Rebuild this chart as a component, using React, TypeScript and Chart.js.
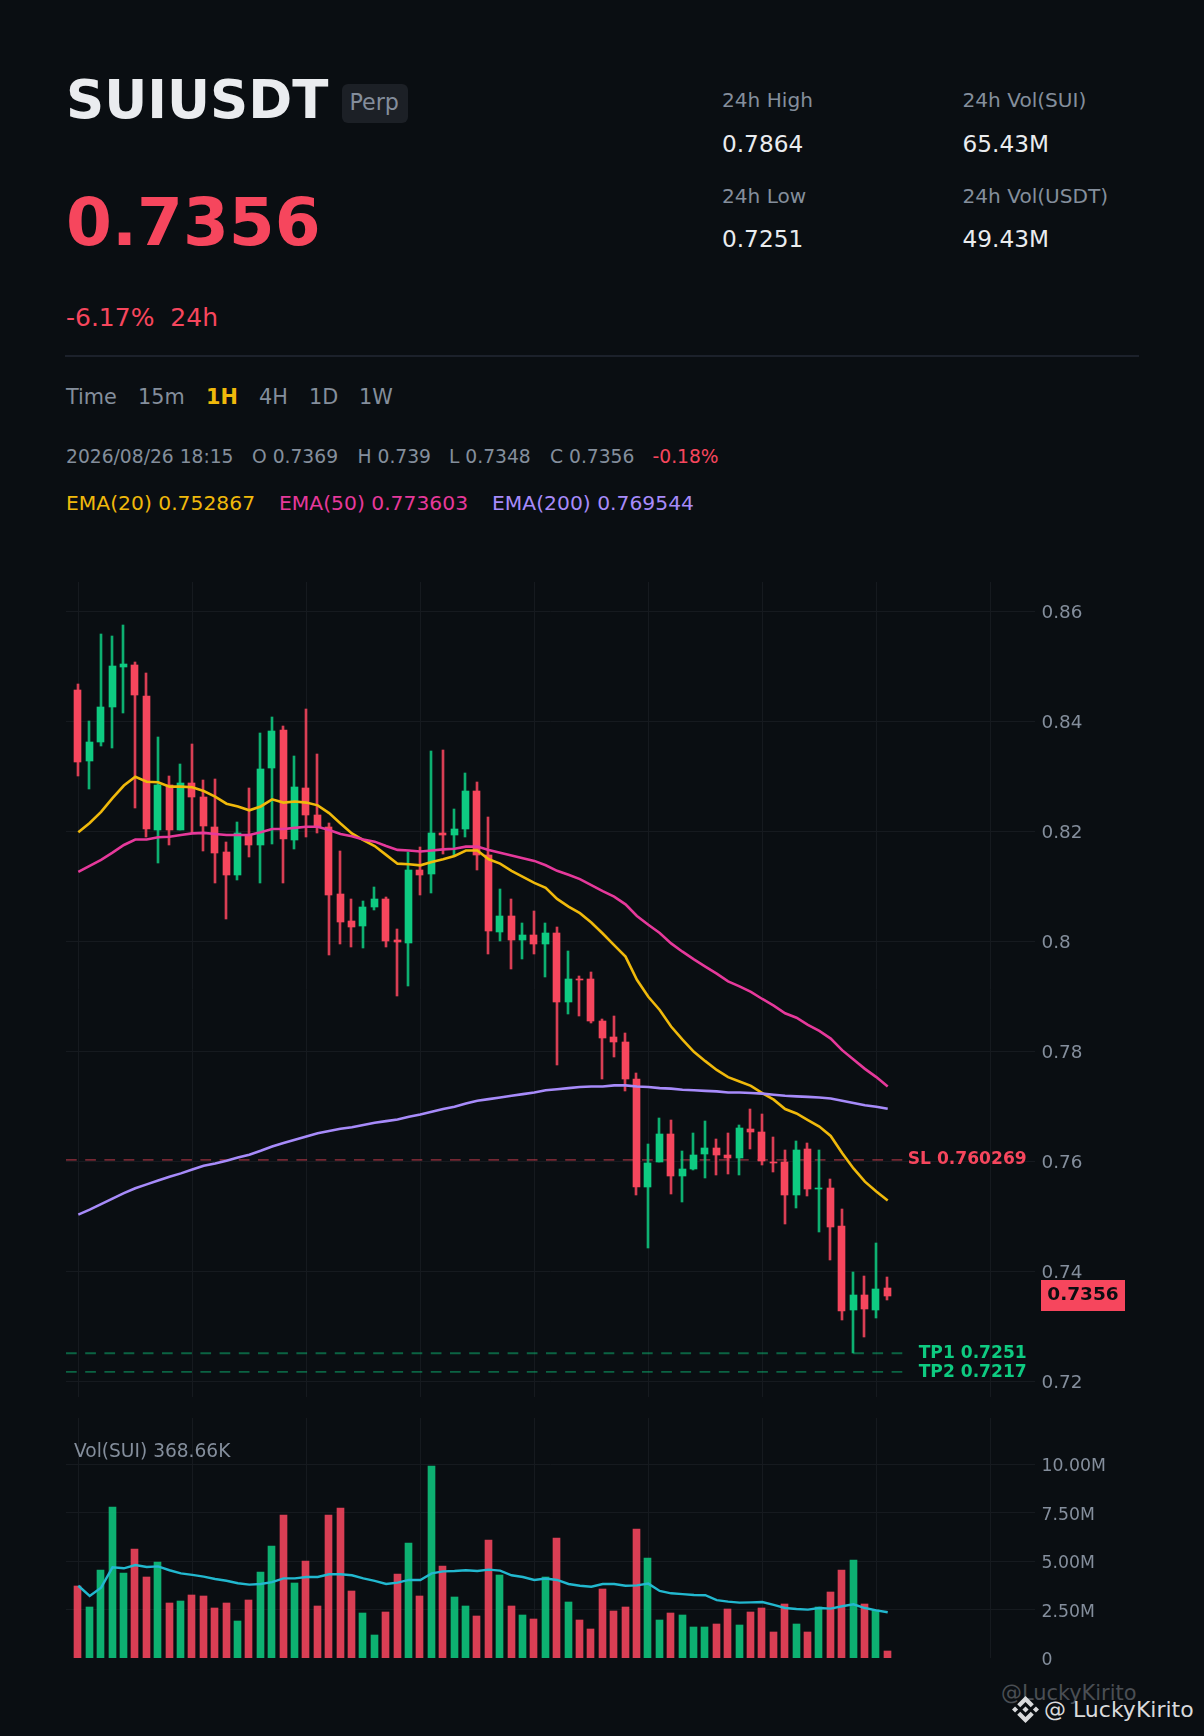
import React, { useEffect, useRef } from "react";
import { Chart, registerables } from "chart.js";

Chart.register(...registerables);

const opens = [0.8457,0.8328,0.8362,0.8426,0.8499,0.8502,0.8446,0.8202,0.8284,0.8202,0.8288,0.8262,0.8208,0.8162,0.8121,0.8193,0.8175,0.8315,0.8384,0.8184,0.8279,0.823,0.8208,0.8086,0.8037,0.8028,0.8062,0.8077,0.8002,0.7997,0.813,0.8122,0.8197,0.8193,0.8204,0.8273,0.8157,0.8017,0.8046,0.8002,0.8012,0.7995,0.8015,0.789,0.7932,0.7932,0.7855,0.7826,0.7817,0.775,0.7553,0.7599,0.765,0.7573,0.7586,0.7613,0.7624,0.7612,0.7606,0.7659,0.7653,0.7599,0.7599,0.7539,0.7622,0.7551,0.7552,0.7482,0.733,0.7357,0.733,0.7369];
const highs = [0.8468,0.8401,0.8559,0.8555,0.8575,0.8508,0.8488,0.8372,0.8301,0.8322,0.8359,0.8293,0.8295,0.8181,0.8217,0.8279,0.8379,0.8408,0.8392,0.8337,0.8422,0.8341,0.8215,0.8164,0.8077,0.8073,0.8099,0.8081,0.8022,0.8162,0.8172,0.8346,0.8348,0.8241,0.8306,0.829,0.8226,0.8095,0.8077,0.8033,0.8055,0.8033,0.8026,0.7982,0.7937,0.7944,0.7859,0.7864,0.7833,0.7761,0.7632,0.7679,0.7675,0.7619,0.7652,0.7673,0.7641,0.7652,0.7666,0.7695,0.7686,0.7644,0.7621,0.7637,0.7633,0.7621,0.7568,0.7513,0.7399,0.7392,0.7452,0.739];
const lows = [0.8301,0.8277,0.8355,0.8352,0.8415,0.8242,0.819,0.8142,0.8175,0.8202,0.8197,0.8164,0.8106,0.8041,0.8112,0.8153,0.8106,0.8177,0.8106,0.8168,0.819,0.8197,0.7975,0.7995,0.799,0.7988,0.8057,0.799,0.7901,0.7919,0.8084,0.8088,0.8159,0.8155,0.819,0.813,0.7977,0.8001,0.795,0.7968,0.7977,0.7935,0.7775,0.7868,0.7864,0.7852,0.775,0.779,0.7728,0.7539,0.7442,0.7599,0.7541,0.7526,0.7584,0.757,0.7575,0.7577,0.7575,0.7622,0.7593,0.7581,0.7486,0.7515,0.7537,0.7472,0.7421,0.7312,0.7251,0.7281,0.7315,0.7348];
const closes = [0.8326,0.8362,0.8426,0.8501,0.8504,0.8448,0.8204,0.8284,0.8202,0.8288,0.8262,0.821,0.8161,0.8121,0.8197,0.8175,0.8313,0.8382,0.8186,0.8281,0.823,0.8208,0.8084,0.8035,0.8026,0.8062,0.8077,0.8001,0.7999,0.813,0.8121,0.8197,0.8193,0.8204,0.8273,0.8157,0.8019,0.8046,0.8002,0.8012,0.7995,0.8015,0.789,0.7932,0.793,0.7855,0.7824,0.7817,0.775,0.7553,0.7597,0.765,0.7573,0.7586,0.7612,0.7624,0.7612,0.7606,0.7661,0.7653,0.7601,0.7597,0.7539,0.7621,0.755,0.7552,0.7481,0.7328,0.7357,0.7332,0.7368,0.7356];

const ema20 = [0.8198,0.8215,0.8235,0.826,0.8283,0.8299,0.829,0.8289,0.8281,0.8281,0.828,0.8273,0.8263,0.825,0.8245,0.8238,0.8245,0.8258,0.8252,0.8254,0.8252,0.8247,0.8233,0.8214,0.8196,0.8184,0.8173,0.8157,0.8141,0.814,0.8138,0.8144,0.8149,0.8155,0.8165,0.8165,0.8149,0.8141,0.8128,0.8117,0.8106,0.8097,0.8077,0.8063,0.8051,0.8034,0.8014,0.7993,0.7972,0.793,0.7899,0.7875,0.7845,0.7821,0.7799,0.7782,0.7766,0.7753,0.7745,0.7737,0.7724,0.7712,0.7695,0.7687,0.7675,0.7663,0.7646,0.7615,0.7587,0.7563,0.7545,0.752867];
const ema50 = [0.8126,0.8137,0.8148,0.8161,0.8175,0.8185,0.8185,0.8189,0.819,0.8193,0.8196,0.8197,0.8195,0.8193,0.8193,0.8193,0.8198,0.8204,0.8204,0.8206,0.8208,0.8208,0.8202,0.8195,0.8191,0.8185,0.8181,0.8173,0.8166,0.8165,0.8163,0.8165,0.8167,0.8168,0.8172,0.8172,0.8166,0.8161,0.8156,0.8151,0.8146,0.8138,0.8128,0.8121,0.8113,0.8102,0.8091,0.8081,0.8067,0.8046,0.803,0.8015,0.7996,0.7981,0.7967,0.7954,0.7941,0.7927,0.7918,0.7908,0.7895,0.7883,0.7869,0.7861,0.7848,0.7837,0.7823,0.7802,0.7785,0.7768,0.7753,0.773603];
const ema200 = [0.7503,0.7512,0.7522,0.7532,0.7542,0.7551,0.7558,0.7565,0.7572,0.7578,0.7585,0.7592,0.7596,0.7601,0.7607,0.7612,0.7619,0.7627,0.7633,0.7639,0.7645,0.7651,0.7655,0.7659,0.7662,0.7666,0.767,0.7673,0.7676,0.7681,0.7685,0.769,0.7695,0.7699,0.7705,0.771,0.7713,0.7716,0.7719,0.7722,0.7725,0.7729,0.7731,0.7733,0.7735,0.7736,0.7736,0.7738,0.7738,0.7736,0.7735,0.7733,0.7732,0.773,0.7729,0.7728,0.7727,0.7725,0.7725,0.7724,0.7723,0.7721,0.7719,0.7718,0.7717,0.7716,0.7714,0.771,0.7706,0.7702,0.7699,0.769544];

const volumes = [3.72,2.63,4.54,7.8,4.39,5.63,4.18,4.96,2.84,2.94,3.25,3.2,2.58,2.84,1.91,2.99,4.44,5.78,7.38,3.87,5.01,2.69,7.38,7.75,3.46,2.32,1.19,2.38,4.34,5.94,3.2,9.91,4.75,3.15,2.69,2.17,6.09,4.29,2.69,2.22,2.01,4.18,6.2,2.89,1.96,1.5,3.56,2.43,2.63,6.66,5.16,1.96,2.32,2.22,1.6,1.6,1.76,2.51,1.7,2.38,2.58,1.34,2.79,1.76,1.34,2.63,3.41,4.54,5.06,2.79,2.48,0.36866];
const volumeMa = [3.73,3.2,3.63,4.68,4.63,4.8,4.7,4.73,4.53,4.37,4.29,4.2,4.08,3.99,3.86,3.79,3.82,3.92,4.11,4.11,4.18,4.18,4.32,4.32,4.27,4.11,3.98,3.82,3.89,4.03,4.03,4.37,4.47,4.49,4.53,4.49,4.56,4.51,4.27,4.18,4.03,4.1,4.03,3.82,3.73,3.68,3.82,3.82,3.73,3.75,3.84,3.46,3.34,3.3,3.25,3.24,2.99,2.91,2.86,2.87,2.89,2.74,2.58,2.53,2.5,2.58,2.55,2.67,2.77,2.58,2.46,2.36];

const priceTicks = [0.72,0.74,0.76,0.78,0.8,0.82,0.84,0.86];
const volumeTicks = [0,2.5,5,7.5,10];
const volumeTickLabels = ["0","2.50M","5.00M","7.50M","10.00M"];
const gridIndices = [0,10,20,30,40,50,60,70,80];

const levelNames = ["SL 0.760269","TP1 0.7251","TP2 0.7217"];
const levelValues = [0.760269,0.7251,0.7217];
const lastPriceLabel = "0.7356";
const lastPrice = 0.7356;

const BG = "#0A0E12";
const GRID = "#161A1F";
const RED = "#F6465D";
const GREEN = "#0ECB81";
const RED_SOFT = "rgba(246,70,93,0.88)";
const GREEN_SOFT = "rgba(14,203,129,0.86)";
const GOLD = "#F0B90B";
const PINK = "#E6399B";
const PURPLE = "#A78BFA";
const CYAN = "#22B8CF";
const MUTED = "#848E9C";
const FONT = '"DejaVu Sans", sans-serif';

const CANVAS_W = 1204;
const AXIS_W = 169;
const AREA_LEFT = 66;
const X_MIN = -1.079;
const X_MAX = 83.92;
const LEVEL_END = 72.5;

const isUp = (i: number) => closes[i] >= opens[i];
const indices = opens.map((_, i) => i);

const snapBars = {
  id: "snapBars",
  afterDatasetsUpdate(chart: any) {
    chart.getSortedVisibleDatasetMetas().forEach((meta: any) => {
      if (meta.type !== "bar") return;
      meta.data.forEach((el: any) => {
        const w = el.width;
        el.x = Math.floor(el.x - w / 2) + w / 2;
        const top = Math.round(Math.min(el.y, el.base));
        let bottom = Math.round(Math.max(el.y, el.base));
        if (bottom <= top) bottom = top + 1;
        el.y = top;
        el.base = bottom;
      });
    });
  },
};

const priceLabels = {
  id: "priceLabels",
  afterDraw(chart: any) {
    const { ctx, scales } = chart;
    const y = scales.y;
    ctx.save();
    ctx.textBaseline = "middle";
    ctx.textAlign = "right";
    ctx.font = `bold 17.1px ${FONT}`;
    levelNames.forEach((name, i) => {
      ctx.fillStyle = i === 0 ? RED : GREEN;
      ctx.fillText(name, 1026.7, y.getPixelForValue(levelValues[i]) + (i === 0 ? -0.5 : 0.5));
    });
    const py = y.getPixelForValue(lastPrice);
    ctx.fillStyle = RED;
    ctx.fillRect(1041, Math.round(py - 15.5), 84, 31);
    ctx.fillStyle = "#0B0E11";
    ctx.textAlign = "center";
    ctx.font = `bold 18.5px ${FONT}`;
    ctx.fillText(lastPriceLabel, 1083, py);
    ctx.restore();
  },
};

const fitY = (axis: any) => {
  axis.width = AXIS_W;
  axis.paddingTop = 0;
  axis.paddingBottom = 0;
};

const xAxis = () => ({
  type: "linear",
  min: X_MIN,
  max: X_MAX,
  offset: false,
  border: { display: false },
  grid: { color: GRID, lineWidth: 1, drawTicks: false, offset: false },
  ticks: { display: false },
  afterBuildTicks: (axis: any) => {
    axis.ticks = gridIndices.map((value) => ({ value }));
  },
  afterFit: (axis: any) => {
    axis.height = 0;
  },
});

const baseOptions = () => ({
  responsive: false,
  animation: false,
  devicePixelRatio: 1,
  events: [],
  plugins: { legend: { display: false }, tooltip: { enabled: false } },
});

function PriceChart() {
  const ref = useRef<HTMLCanvasElement>(null);
  useEffect(() => {
    const line = (data: number[], color: string, order: number) => ({
      type: "line",
      data: data.map((y, x) => ({ x, y })),
      borderColor: color,
      borderWidth: 2.6,
      pointRadius: 0,
      tension: 0,
      fill: false,
      order,
    });
    const level = (value: number, color: string) => ({
      type: "line",
      data: [{ x: X_MIN, y: value }, { x: LEVEL_END, y: value }],
      borderColor: color,
      borderWidth: 1.8,
      borderDash: [10.7, 8.5],
      pointRadius: 0,
      tension: 0,
      fill: false,
      order: 4,
    });
    const chart = new Chart(ref.current as HTMLCanvasElement, {
      type: "bar",
      data: {
        datasets: [
          line(ema200, PURPLE, 0),
          line(ema50, PINK, 0),
          line(ema20, GOLD, 0),
          {
            type: "bar",
            data: indices.map((x) => ({ x, y: [opens[x], closes[x]] })),
            backgroundColor: indices.map((i) => (isUp(i) ? GREEN : RED)),
            barThickness: 7,
            grouped: false,
            borderWidth: 0,
            order: 2,
          },
          {
            type: "bar",
            data: indices.map((x) => ({ x, y: [lows[x], highs[x]] })),
            backgroundColor: indices.map((i) => (isUp(i) ? GREEN_SOFT : RED_SOFT)),
            barThickness: 2,
            grouped: false,
            borderWidth: 0,
            order: 3,
          },
          level(levelValues[0], "rgba(246,70,93,0.45)"),
          level(levelValues[1], "rgba(14,203,129,0.45)"),
          level(levelValues[2], "rgba(14,203,129,0.45)"),
        ],
      },
      options: {
        ...baseOptions(),
        layout: { padding: { left: AREA_LEFT, right: 0, top: 0, bottom: 0 } },
        scales: {
          x: xAxis(),
          y: {
            type: "linear",
            position: "right",
            beginAtZero: false,
            min: 0.71715,
            max: 0.8653,
            border: { display: false },
            grid: { color: GRID, lineWidth: 1, drawTicks: false },
            ticks: {
              color: MUTED,
              font: { family: FONT, size: 18.4 },
              padding: 6.5,
              labelOffset: 2.2,
              callback: (v: any) => String(v),
            },
            afterBuildTicks: (axis: any) => {
              axis.ticks = priceTicks.map((value) => ({ value }));
            },
            afterFit: fitY,
          },
        },
      } as any,
      plugins: [snapBars, priceLabels],
    } as any);
    return () => chart.destroy();
  }, []);
  return (
    <canvas
      ref={ref}
      width={CANVAS_W}
      height={815}
      style={{ position: "absolute", left: 0, top: 582, display: "block" }}
    />
  );
}

function VolumeChart() {
  const ref = useRef<HTMLCanvasElement>(null);
  useEffect(() => {
    const chart = new Chart(ref.current as HTMLCanvasElement, {
      type: "bar",
      data: {
        datasets: [
          {
            type: "line",
            data: volumeMa.map((y, x) => ({ x, y })),
            borderColor: CYAN,
            borderWidth: 2.4,
            pointRadius: 0,
            tension: 0,
            fill: false,
            order: 0,
          },
          {
            type: "bar",
            data: volumes.map((y, x) => ({ x, y })),
            backgroundColor: indices.map((i) => (isUp(i) ? GREEN_SOFT : RED_SOFT)),
            barThickness: 7,
            grouped: false,
            borderWidth: 0,
            order: 1,
          },
        ],
      },
      options: {
        ...baseOptions(),
        layout: { padding: { left: AREA_LEFT, right: 0, top: 0, bottom: 20 } },
        scales: {
          x: xAxis(),
          y: {
            type: "linear",
            position: "right",
            beginAtZero: true,
            min: 0,
            max: 12.39,
            border: { display: false },
            grid: {
              color: (c: any) => (c.tick && c.tick.value === 0 ? "transparent" : GRID),
              lineWidth: 1,
              drawTicks: false,
            },
            ticks: {
              color: MUTED,
              font: { family: FONT, size: 17.3 },
              padding: 6.5,
              labelOffset: 2.5,
              callback: (v: any) => volumeTickLabels[volumeTicks.indexOf(v)],
            },
            afterBuildTicks: (axis: any) => {
              axis.ticks = volumeTicks.map((value) => ({ value }));
            },
            afterFit: fitY,
          },
        },
      } as any,
      plugins: [snapBars],
    } as any);
    return () => chart.destroy();
  }, []);
  return (
    <canvas
      ref={ref}
      width={CANVAS_W}
      height={260}
      style={{ position: "absolute", left: 0, top: 1418, display: "block" }}
    />
  );
}

function T(props: { x: number; y: number; size: number; color: string; bold?: boolean; children: any }) {
  return (
    <div
      style={{
        position: "absolute",
        left: props.x,
        top: props.y,
        transform: "translateY(-50%)",
        fontFamily: FONT,
        fontSize: props.size,
        lineHeight: 1,
        fontWeight: props.bold ? 700 : 400,
        color: props.color,
        whiteSpace: "pre",
      }}
    >
      {props.children}
    </div>
  );
}

export default function App() {
  return (
    <div style={{ position: "relative", width: 1204, height: 1736, background: BG, overflow: "hidden" }}>
      <style>{`html,body{margin:0;background:${BG}}`}</style>

      <T x={66} y={99} size={53} color="#EAECEF" bold>SUIUSDT</T>
      <div style={{ position: "absolute", left: 342, top: 84, width: 66, height: 39, borderRadius: 6, background: "#1C2026" }} />
      <T x={349.5} y={102} size={22.2} color={MUTED}>Perp</T>
      <T x={66} y={222.5} size={66} color={RED} bold>0.7356</T>
      <T x={66} y={316.5} size={25} color={RED}>{"-6.17%  24h"}</T>

      <T x={722} y={100} size={20.1} color={MUTED}>24h High</T>
      <T x={722} y={143.5} size={23.2} color="#EAECEF">0.7864</T>
      <T x={722} y={196} size={20.1} color={MUTED}>24h Low</T>
      <T x={722} y={239} size={23.2} color="#EAECEF">0.7251</T>
      <T x={962.5} y={100} size={20.1} color={MUTED}>24h Vol(SUI)</T>
      <T x={962.5} y={143.5} size={23.2} color="#EAECEF">65.43M</T>
      <T x={962.5} y={196} size={20.1} color={MUTED}>24h Vol(USDT)</T>
      <T x={962.5} y={239} size={23.2} color="#EAECEF">49.43M</T>

      <div style={{ position: "absolute", left: 65, top: 355, width: 1074, height: 2, background: "#1C212B" }} />

      <T x={66} y={397} size={20.8} color={MUTED}>Time</T>
      <T x={138} y={397} size={20.8} color={MUTED}>15m</T>
      <T x={206} y={397} size={20.8} color={GOLD} bold>1H</T>
      <T x={259} y={397} size={20.8} color={MUTED}>4H</T>
      <T x={309} y={397} size={20.8} color={MUTED}>1D</T>
      <T x={359} y={397} size={20.8} color={MUTED}>1W</T>

      <T x={66} y={456.5} size={18.7} color={MUTED}>2026/08/26 18:15</T>
      <T x={252} y={456.5} size={18.7} color={MUTED}>O 0.7369</T>
      <T x={357.5} y={456.5} size={18.7} color={MUTED}>H 0.739</T>
      <T x={449} y={456.5} size={18.7} color={MUTED}>L 0.7348</T>
      <T x={550} y={456.5} size={18.7} color={MUTED}>C 0.7356</T>
      <T x={652.5} y={456.5} size={18.7} color={RED}>-0.18%</T>

      <T x={66} y={503} size={20.3} color={GOLD}>EMA(20) 0.752867</T>
      <T x={279} y={503} size={20.3} color={PINK}>EMA(50) 0.773603</T>
      <T x={492} y={503} size={20.3} color={PURPLE}>EMA(200) 0.769544</T>

      <PriceChart />
      <VolumeChart />

      <T x={74} y={1450.5} size={18.6} color={MUTED}>Vol(SUI) 368.66K</T>

      <T x={1001} y={1693} size={20.9} color="#4A4E54">@LuckyKirito</T>
      <svg
        viewBox="0 0 126.61 126.61"
        width={27}
        height={27}
        style={{ position: "absolute", left: 1012, top: 1696 }}
      >
        <path
          fill="#D9DADC"
          d="m38.73 53.2 24.59-24.58 24.6 24.6 14.3-14.31L63.32 0 24.42 38.9zM0 63.31l14.3-14.31 14.31 14.31-14.31 14.3zM38.73 73.41 63.32 98l24.6-24.6 14.31 14.29-38.9 38.91-38.91-38.88zM98 63.31l14.3-14.31 14.31 14.3-14.31 14.32zM77.83 63.3 63.32 48.78 52.59 59.51l-1.24 1.23-2.54 2.54 14.51 14.5 14.51-14.47z"
        />
      </svg>
      <T x={1044} y={1710} size={22} color="#D9DADC">@ LuckyKirito</T>
    </div>
  );
}
